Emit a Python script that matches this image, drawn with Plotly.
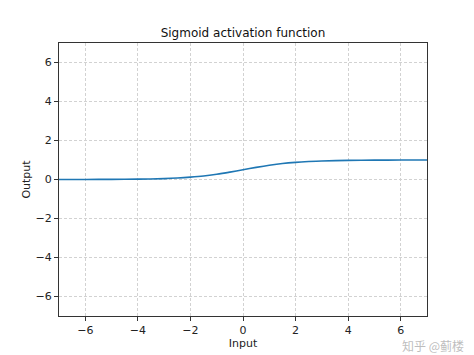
import plotly.graph_objects as go

# Values
x_vals = [-7, -6, -5, -4, -3, -2.5, -2, -1.5, -1, -0.5, 0, 0.5, 1, 1.5, 2, 2.5, 3, 4, 5, 6, 7]
y_vals = [0.001, 0.002, 0.007, 0.018, 0.047, 0.076, 0.12, 0.18, 0.27, 0.38, 0.5,
          0.62, 0.73, 0.82, 0.88, 0.92, 0.95, 0.982, 0.993, 0.998, 0.999]
tick_vals = [-6, -4, -2, 0, 2, 4, 6]
tick_text = ["\u22126", "\u22124", "\u22122", "0", "2", "4", "6"]

fig = go.Figure()
fig.add_trace(go.Scatter(x=x_vals, y=y_vals, mode="lines",
                         line=dict(color="#1f77b4", width=1.6, shape="spline", smoothing=0.8),
                         showlegend=False, hoverinfo="skip"))

axis_common = dict(
    showgrid=True, gridcolor="#d2d2d2", griddash="3px,2px", gridwidth=0.8,
    showline=True, linecolor="#333333", linewidth=1, mirror=True,
    ticks="outside", ticklen=4, tickwidth=1, tickcolor="#333333",
    zeroline=False, tickfont=dict(size=11, color="#222222"),
    tickvals=tick_vals, ticktext=tick_text, automargin=False,
)

fig.update_layout(
    width=474, height=355,
    margin=dict(l=59, r=47, t=43, b=39, autoexpand=False),
    paper_bgcolor="white", plot_bgcolor="white",
    font=dict(family="DejaVu Sans", color="#222222"),
    title=dict(text="Sigmoid activation function", x=0.5, xref="paper",
               xanchor="center", y=1, yref="paper", yanchor="bottom", pad=dict(b=6),
               font=dict(size=12, color="#111111"), automargin=False),
    xaxis=dict(range=[-7, 7], title=dict(text="Input", font=dict(size=11), standoff=3), **axis_common),
    yaxis=dict(range=[-7, 7], title=dict(text="Output", font=dict(size=11), standoff=2), **axis_common),
)

fig.add_annotation(text="知乎 @蓟楼", xref="paper", yref="paper", x=1.105, y=-0.108,
                   xanchor="right", yanchor="middle", showarrow=False,
                   font=dict(family="Noto Sans CJK SC", size=12, color="rgba(160,160,160,0.7)"))

fig.write_html("out.html", config={"displayModeBar": False},
               post_script="document.body.style.margin='0';")
